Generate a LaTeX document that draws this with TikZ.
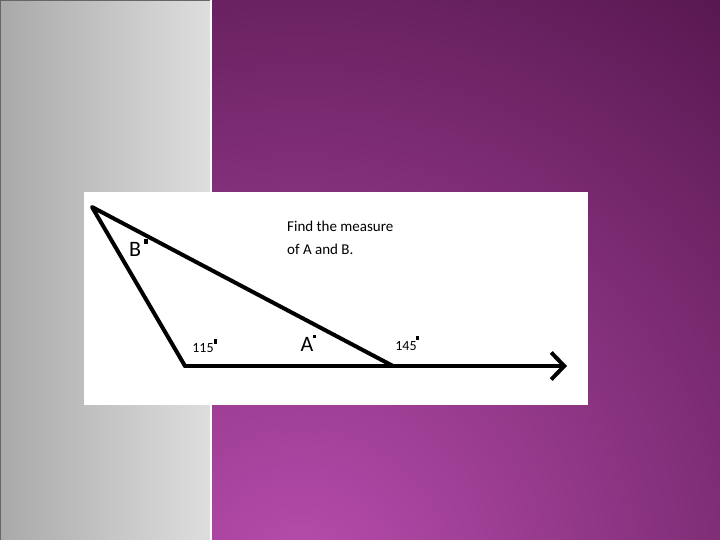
\documentclass[tikz,border=0pt]{standalone}
\usepackage{fontspec}
\setmainfont{Carlito}
\usetikzlibrary{arrows.meta}
\definecolor{panelgray}{HTML}{A9A9A9}
\definecolor{panellight}{HTML}{DEDEDE}
\definecolor{plumdark}{HTML}{4A1042}
\definecolor{plumlight}{HTML}{B84DAE}
\begin{document}
\begin{tikzpicture}[x=1pt,y=-1pt]
                \tikzset{edge/.style={line width=4pt, line cap=round, line join=round},
                         angle/.style={font=\fontsize{22}{22}\selectfont, inner sep=0pt},
                         given/.style={font=\fontsize{14}{14}\selectfont, inner sep=0pt}}
                \useasboundingbox (0,0) rectangle (720,540);
                % backdrop
                \shade[left color=panelgray, right color=panellight] (0,0) rectangle (210,540);
                \draw[black!60, line width=1.5pt] (0,540) -- (0,0) -- (210,0);
                \fill[white] (210,0) rectangle (212,540);
                \begin{scope}
                \clip (212,0) rectangle (720,540);
                \shade[inner color=plumlight, outer color=plumdark] (300,580) circle (820);
                \end{scope}
                % picture
                \fill[white] (84,192) rectangle (588,405);
                \coordinate (B) at (92,207);
                \coordinate (C) at (185,366);
                \coordinate (A) at (393,366);
                \coordinate (E) at (567,366);
                \draw[edge] (A) -- (B) -- (C);
                \draw[edge, -{Straight Barb[length=13pt, width=27pt, line width=4pt]}] (C) -- (E);
                \node[angle] (lb) at (135,249) {B};
                \fill (144,239) rectangle (148,244);
                \node[angle] (la) at (307,344) {A};
                \fill (313,335) rectangle (316,338);
                \node[given] (l115) at (203,348) {115};
                \fill (214,339) rectangle (217,344);
                \node[given] (l145) at (406,346) {145};
                \fill (416,336) rectangle (419,340);
                \node[font=\fontsize{15}{23}\selectfont, align=left, anchor=north west, inner sep=0pt] (task) at (287,221) {Find the measure\\of A and B.};
            \end{tikzpicture}
\end{document}
